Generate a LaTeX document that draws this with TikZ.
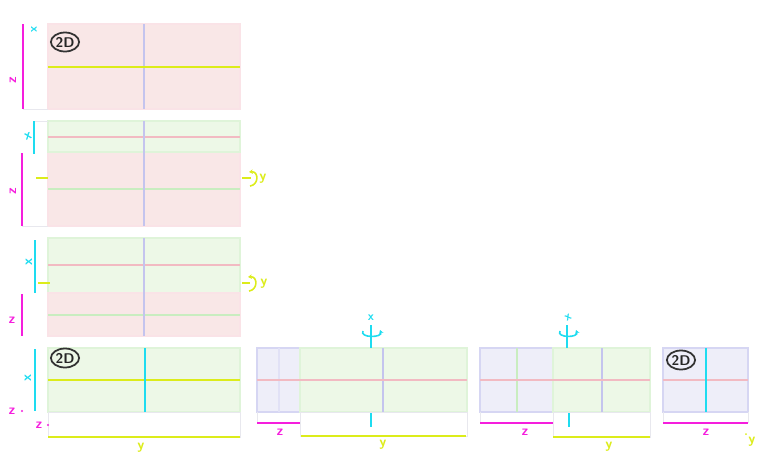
\documentclass[tikz,border=0pt]{standalone}
\usepackage{tikz}
\usetikzlibrary{arrows.meta,shapes.geometric}
\definecolor{pinkfill}{HTML}{F9E7E7}
\definecolor{greenfill}{HTML}{EDF8E7}
\definecolor{lavfill}{HTML}{EEEEF9}
\definecolor{pinkline}{HTML}{F2BAC2}
\definecolor{greenline}{HTML}{C9EDC0}
\definecolor{lavline}{HTML}{C4C4EE}
\definecolor{zcol}{HTML}{F51EDD}
\definecolor{xcol}{HTML}{1EDCF0}
\definecolor{ycol}{HTML}{DCEC1A}
\definecolor{faintgrey}{HTML}{E8E8EE}
\tikzset{
  pinkpanel/.style={fill=pinkfill, draw=pinkline!40, line width=0.6pt},
  greenpanel/.style={fill=greenfill, draw=greenline!60, line width=0.6pt},
  lavpanel/.style={fill=lavfill, draw=lavline!70, line width=0.6pt},
  pinkrule/.style={draw=pinkline, line width=0.7pt},
  greenrule/.style={draw=greenline, line width=0.7pt},
  lavrule/.style={draw=lavline, line width=0.8pt},
  faint/.style={draw=faintgrey, line width=0.5pt},
  zaxis/.style={draw=zcol, line width=1.3pt},
  xaxis/.style={draw=xcol, line width=1.3pt},
  yaxis/.style={draw=ycol, line width=1.6pt},
  turn/.style={line width=0.9pt, -{Stealth[length=2.2pt,width=2.6pt]}},
  lbl/.style={font=\footnotesize\sffamily\bfseries, inner sep=0pt},
  twod/.style={ellipse, draw=black!80, line width=1pt, inner sep=0.3pt,
    font=\footnotesize\sffamily\bfseries, text=black!85,
    minimum width=0.44cm, minimum height=0.38cm},
}
\begin{document}
\begin{tikzpicture}[x=0.02cm, y=-0.02cm]
  \useasboundingbox (0,0) rectangle (768,457);

  % Row 1: flat panel
  \draw[pinkpanel] (48,24) rectangle (240,109);
  \draw[lavrule] (144,24) -- (144,109);
  \draw[yaxis] (48,67) -- (240,67);
  \draw[faint] (23,109) -- (48,109);
  \draw[zaxis] (23,24) -- (23,109);
  \node[lbl, text=zcol, rotate=90] (zone) at (13,80) {z};
  \node[lbl, text=xcol, font=\scriptsize\sffamily\bfseries, rotate=-90] (xone) at (34,30) {x};
  \node[twod] (twodone) at (65,42) {2D};

  % Row 2: tilted about y, z long
  \draw[pinkpanel] (48,121) rectangle (240,226);
  \draw[greenpanel] (48,121) rectangle (240,152);
  \draw[pinkrule] (48,137) -- (240,137);
  \draw[greenrule] (48,189) -- (240,189);
  \draw[lavrule] (144,121) -- (144,226);
  \draw[faint] (34,121) -- (48,121);
  \draw[faint] (22,226) -- (48,226);
  \draw[xaxis] (34,121) -- (34,154);
  \node[lbl, text=xcol, rotate=20] (xtwo) at (28,136) {x};
  \draw[zaxis] (22,153) -- (22,226);
  \node[lbl, text=zcol, rotate=90] (ztwo) at (13,191) {z};
  \draw[yaxis] (36,178) -- (48,178);
  \draw[yaxis] (242,178) -- (251,178);
  \draw[turn, ycol] (250,186) .. controls (259,185) and (259,171) .. (249,172);
  \node[lbl, text=ycol] (ytwo) at (263,179) {y};

  % Row 3: tilted about y, x long
  \draw[greenpanel] (48,238) rectangle (240,293);
  \draw[pinkpanel] (48,293) rectangle (240,336);
  \draw[pinkrule] (48,265) -- (240,265);
  \draw[greenrule] (48,315) -- (240,315);
  \draw[lavrule] (144,238) -- (144,336);
  \draw[xaxis] (35,240) -- (35,293);
  \node[lbl, text=xcol, rotate=90] (xthree) at (29,262) {x};
  \draw[yaxis] (38,283) -- (50,283);
  \draw[yaxis] (242,283) -- (250,283);
  \draw[turn, ycol] (249,291) .. controls (258,290) and (258,276) .. (248,277);
  \node[lbl, text=ycol] (ythree) at (264,284) {y};
  \draw[zaxis] (22,294) -- (22,336);
  \node[lbl, text=zcol] (zthree) at (12,320) {z};

  % Row 4: edge-on, x and y
  \draw[greenpanel] (48,348) rectangle (240,412);
  \draw[yaxis] (48,380) -- (240,380);
  \draw[xaxis] (145,348) -- (145,413);
  \draw[xaxis] (35,349) -- (35,411);
  \node[lbl, text=xcol, rotate=90] (xfour) at (28,378) {x};
  \node[twod] (twodfour) at (65,358) {2D};
  \node[lbl, text=zcol] (zfour) at (12,411) {z};
  \fill[zcol] (22,411) circle (1.2);
  \draw[faint] (48,412) rectangle (240,437);
  \node[lbl, text=zcol] (zfourb) at (39,425) {z};
  \fill[zcol] (48,425) circle (1.2);
  \draw[yaxis] (48,437) -- (240,437);
  \node[lbl, text=ycol] (yfour) at (141,448) {y};

  % Row 4: turned about x, first step
  \draw[lavpanel] (257,348) rectangle (300,412);
  \draw[greenpanel] (300,348) rectangle (467,412);
  \draw[lavrule, draw=lavline!50] (279,348) -- (279,412);
  \draw[lavrule] (383,348) -- (383,412);
  \draw[pinkrule] (257,380) -- (467,380);
  \draw[xaxis] (371,325) -- (371,348);
  \draw[turn, xcol] (363,331) .. controls (359,338) and (383,338) .. (380,330);
  \node[lbl, text=xcol, font=\scriptsize\sffamily\bfseries] (xfive) at (371,318) {x};
  \draw[xaxis] (371,413) -- (371,427);
  \draw[faint] (257,412) -- (257,423);
  \draw[zaxis] (257,423) -- (301,423);
  \node[lbl, text=zcol] (zfive) at (280,432) {z};
  \draw[faint] (300,412) rectangle (467,436);
  \draw[yaxis] (301,436) -- (466,436);
  \node[lbl, text=ycol] (yfive) at (383,445) {y};

  % Row 4: turned about x, second step
  \draw[lavpanel] (480,348) rectangle (553,412);
  \draw[greenpanel] (553,348) rectangle (650,412);
  \draw[greenrule] (517,348) -- (517,412);
  \draw[lavrule] (602,348) -- (602,412);
  \draw[pinkrule] (480,380) -- (650,380);
  \draw[xaxis] (567,325) -- (567,348);
  \draw[turn, xcol] (560,331) .. controls (556,338) and (579,338) .. (576,330);
  \node[lbl, text=xcol, font=\scriptsize\sffamily\bfseries, rotate=30] (xsix) at (568,318) {x};
  \draw[xaxis] (569,413) -- (569,427);
  \draw[faint] (480,412) -- (480,423);
  \draw[zaxis] (480,423) -- (553,423);
  \node[lbl, text=zcol] (zsix) at (525,432) {z};
  \draw[faint] (553,412) rectangle (650,437);
  \draw[yaxis] (553,437) -- (650,437);
  \node[lbl, text=ycol] (ysix) at (609,447) {y};

  % Row 4: flat again, z and x
  \draw[lavpanel] (663,348) rectangle (748,412);
  \draw[pinkrule] (663,380) -- (748,380);
  \draw[xaxis] (706,348) -- (706,412);
  \node[twod] (twodseven) at (681,360) {2D};
  \draw[faint] (663,412) -- (663,423);
  \draw[faint] (748,412) -- (748,423);
  \draw[zaxis] (663,423) -- (748,423);
  \node[lbl, text=zcol] (zseven) at (706,432) {z};
  \fill[ycol] (746,434) circle (1);
  \node[lbl, text=ycol] (yseven) at (752,442) {y};
\end{tikzpicture}
\end{document}
